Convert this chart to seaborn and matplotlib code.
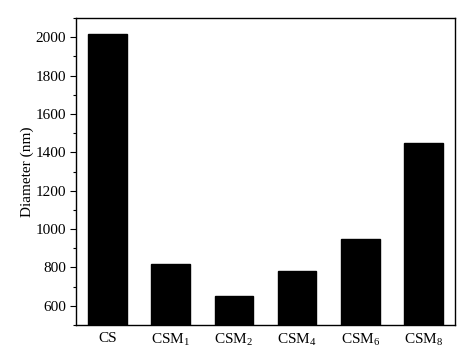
import matplotlib
matplotlib.use("Agg")
import matplotlib.pyplot as plt
import seaborn as sns
import pandas as pd
from matplotlib.ticker import MultipleLocator

categories = ["CS", "CSM$_1$", "CSM$_2$", "CSM$_4$", "CSM$_6$", "CSM$_8$"]
diameters = [2015, 820, 652, 782, 948, 1448]
yticks = [600, 800, 1000, 1200, 1400, 1600, 1800, 2000]

sns.set_theme(style="ticks")
plt.rcParams["font.family"] = ["Liberation Serif", "DejaVu Serif"]
plt.rcParams["mathtext.fontset"] = "custom"
plt.rcParams["mathtext.rm"] = "Liberation Serif"
plt.rcParams["mathtext.it"] = "Liberation Serif:italic"
plt.rcParams["text.color"] = "black"
plt.rcParams["axes.labelcolor"] = "black"
plt.rcParams["xtick.color"] = "black"
plt.rcParams["ytick.color"] = "black"

df = pd.DataFrame({"cat": categories, "d": diameters})

fig = plt.figure(figsize=(4.74, 3.63), dpi=100)
ax = fig.add_axes([0.160, 0.105, 0.800, 0.845])
sns.barplot(data=df, x="cat", y="d", color="black", width=0.61,
            saturation=1, ax=ax, edgecolor="black")
ax.set_xlim(-0.5, 5.5)
ax.set_ylim(500, 2100)
ax.set_yticks(yticks)
ax.yaxis.set_minor_locator(MultipleLocator(100))
ax.tick_params(axis="y", which="major", length=4, width=0.8, labelsize=11, direction="out", pad=3)
ax.tick_params(axis="y", which="minor", length=2, width=0.8)
ax.tick_params(axis="x", length=0, labelsize=11, pad=5)
ax.set_xlabel("")
ax.set_ylabel("Diameter (nm)", fontsize=11, labelpad=1)
for s in ax.spines.values():
    s.set_visible(True)
    s.set_color("black")
    s.set_linewidth(1.0)
fig.savefig("out.png", dpi=100)
